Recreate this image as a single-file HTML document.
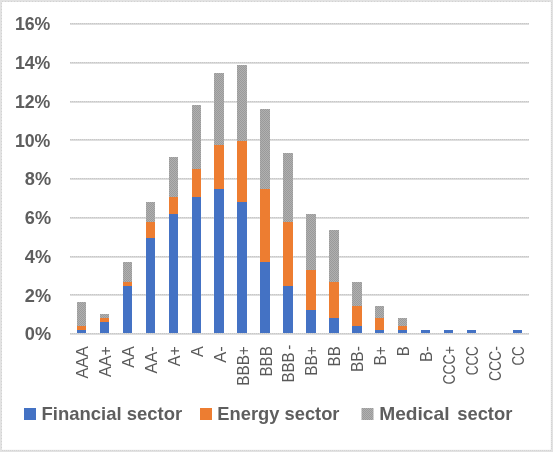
<!DOCTYPE html>
<html><head><meta charset="utf-8"><title>chart</title>
<style>
html,body{margin:0;padding:0;background:#fff;}
body{width:553px;height:452px;overflow:hidden;}
svg{display:block;}
text{font-family:"Liberation Sans",sans-serif;fill:#595959;}
.b{font-weight:bold;fill:#5e5e5e;}
</style></head><body>
<svg width="553" height="452" viewBox="0 0 553 452">
<defs>
<pattern id="pg" width="2" height="2" patternUnits="userSpaceOnUse"><rect width="2" height="2" fill="#b0b0b0"/><rect width="1" height="1" fill="#9a9a9a"/><rect x="1" y="1" width="1" height="1" fill="#9a9a9a"/></pattern>
<pattern id="pl" width="2" height="1" patternUnits="userSpaceOnUse"><rect width="2" height="1" fill="#d8d8d8"/><rect width="1" height="1" fill="#c8c8c8"/></pattern>
<pattern id="ph3" width="3" height="1" patternUnits="userSpaceOnUse"><rect width="3" height="1" fill="#e2e2e2"/><rect x="2" width="1" height="1" fill="#d2d2d2"/></pattern>
<pattern id="pv3" width="1" height="3" patternUnits="userSpaceOnUse"><rect width="1" height="3" fill="#e2e2e2"/><rect y="0" width="1" height="1" fill="#d2d2d2"/></pattern>
<pattern id="ph2" width="2" height="1" patternUnits="userSpaceOnUse"><rect width="2" height="1" fill="#e2e2e2"/><rect x="0" width="1" height="1" fill="#d4d4d4"/></pattern>
<pattern id="pv2" width="1" height="2" patternUnits="userSpaceOnUse"><rect width="1" height="2" fill="#e2e2e2"/><rect y="0" width="1" height="1" fill="#d4d4d4"/></pattern>
</defs>
<rect x="0" y="0" width="553" height="452" fill="#e2e2e2"/>
<rect x="2" y="1" width="549" height="1" fill="url(#ph3)"/>
<rect x="1" y="2" width="1" height="448" fill="url(#pv3)"/>
<rect x="2" y="450" width="549" height="1" fill="url(#ph2)"/>
<rect x="551" y="2" width="1" height="448" fill="url(#pv2)"/>
<rect x="2" y="2" width="548.8" height="447.8" fill="#ffffff"/>

<rect x="70" y="333" width="459" height="2" fill="#dedede"/><rect x="70" y="333" width="459" height="1" fill="url(#pl)"/>
<rect x="70" y="294" width="459" height="2" fill="#dedede"/><rect x="70" y="294" width="459" height="1" fill="url(#pl)"/>
<rect x="70" y="256" width="459" height="2" fill="#dedede"/><rect x="70" y="256" width="459" height="1" fill="url(#pl)"/>
<rect x="70" y="217" width="459" height="2" fill="#dedede"/><rect x="70" y="217" width="459" height="1" fill="url(#pl)"/>
<rect x="70" y="178" width="459" height="2" fill="#dedede"/><rect x="70" y="178" width="459" height="1" fill="url(#pl)"/>
<rect x="70" y="139" width="459" height="2" fill="#dedede"/><rect x="70" y="139" width="459" height="1" fill="url(#pl)"/>
<rect x="70" y="101" width="459" height="2" fill="#dedede"/><rect x="70" y="101" width="459" height="1" fill="url(#pl)"/>
<rect x="70" y="62" width="459" height="2" fill="#dedede"/><rect x="70" y="62" width="459" height="1" fill="url(#pl)"/>
<rect x="70" y="23" width="459" height="2" fill="#dedede"/><rect x="70" y="23" width="459" height="1" fill="url(#pl)"/>
<rect x="77" y="302" width="9" height="24" fill="url(#pg)"/>
<rect x="77" y="326" width="9" height="4" fill="#ed7d31"/>
<rect x="77" y="330" width="9" height="3" fill="#4472c4"/>
<rect x="100" y="314" width="9" height="4" fill="url(#pg)"/>
<rect x="100" y="318" width="9" height="4" fill="#ed7d31"/>
<rect x="100" y="322" width="9" height="11" fill="#4472c4"/>
<rect x="123" y="262" width="9" height="20" fill="url(#pg)"/>
<rect x="123" y="282" width="9" height="4" fill="#ed7d31"/>
<rect x="123" y="286" width="9" height="47" fill="#4472c4"/>
<rect x="146" y="202" width="9" height="20" fill="url(#pg)"/>
<rect x="146" y="222" width="9" height="16" fill="#ed7d31"/>
<rect x="146" y="238" width="9" height="95" fill="#4472c4"/>
<rect x="169" y="157" width="9" height="40" fill="url(#pg)"/>
<rect x="169" y="197" width="9" height="17" fill="#ed7d31"/>
<rect x="169" y="214" width="9" height="119" fill="#4472c4"/>
<rect x="192" y="105" width="9" height="64" fill="url(#pg)"/>
<rect x="192" y="169" width="9" height="28" fill="#ed7d31"/>
<rect x="192" y="197" width="9" height="136" fill="#4472c4"/>
<rect x="214" y="73" width="10" height="72" fill="url(#pg)"/>
<rect x="214" y="145" width="10" height="44" fill="#ed7d31"/>
<rect x="214" y="189" width="10" height="144" fill="#4472c4"/>
<rect x="237" y="65" width="10" height="76" fill="url(#pg)"/>
<rect x="237" y="141" width="10" height="61" fill="#ed7d31"/>
<rect x="237" y="202" width="10" height="131" fill="#4472c4"/>
<rect x="260" y="109" width="10" height="80" fill="url(#pg)"/>
<rect x="260" y="189" width="10" height="73" fill="#ed7d31"/>
<rect x="260" y="262" width="10" height="71" fill="#4472c4"/>
<rect x="283" y="153" width="10" height="69" fill="url(#pg)"/>
<rect x="283" y="222" width="10" height="64" fill="#ed7d31"/>
<rect x="283" y="286" width="10" height="47" fill="#4472c4"/>
<rect x="306" y="214" width="10" height="56" fill="url(#pg)"/>
<rect x="306" y="270" width="10" height="40" fill="#ed7d31"/>
<rect x="306" y="310" width="10" height="23" fill="#4472c4"/>
<rect x="329" y="230" width="10" height="52" fill="url(#pg)"/>
<rect x="329" y="282" width="10" height="36" fill="#ed7d31"/>
<rect x="329" y="318" width="10" height="15" fill="#4472c4"/>
<rect x="352" y="282" width="10" height="24" fill="url(#pg)"/>
<rect x="352" y="306" width="10" height="20" fill="#ed7d31"/>
<rect x="352" y="326" width="10" height="7" fill="#4472c4"/>
<rect x="375" y="306" width="9" height="12" fill="url(#pg)"/>
<rect x="375" y="318" width="9" height="12" fill="#ed7d31"/>
<rect x="375" y="330" width="9" height="3" fill="#4472c4"/>
<rect x="398" y="318" width="9" height="8" fill="url(#pg)"/>
<rect x="398" y="326" width="9" height="4" fill="#ed7d31"/>
<rect x="398" y="330" width="9" height="3" fill="#4472c4"/>
<rect x="421" y="330" width="9" height="3" fill="#4472c4"/>
<rect x="444" y="330" width="9" height="3" fill="#4472c4"/>
<rect x="467" y="330" width="9" height="3" fill="#4472c4"/>
<rect x="513" y="330" width="9" height="3" fill="#4472c4"/>
<text class="b" x="51.1" y="340.3" font-size="18.2" text-anchor="end">0%</text>
<text class="b" x="51.1" y="302.3" font-size="18.2" text-anchor="end">2%</text>
<text class="b" x="51.1" y="263.3" font-size="18.2" text-anchor="end">4%</text>
<text class="b" x="51.1" y="224.3" font-size="18.2" text-anchor="end">6%</text>
<text class="b" x="51.1" y="185.3" font-size="18.2" text-anchor="end">8%</text>
<text class="b" x="50.4" y="147.3" font-size="18.2" text-anchor="end" textLength="35.5" lengthAdjust="spacingAndGlyphs">10%</text>
<text class="b" x="50.4" y="108.3" font-size="18.2" text-anchor="end" textLength="35.5" lengthAdjust="spacingAndGlyphs">12%</text>
<text class="b" x="50.4" y="69.3" font-size="18.2" text-anchor="end" textLength="35.5" lengthAdjust="spacingAndGlyphs">14%</text>
<text class="b" x="50.4" y="30.3" font-size="18.2" text-anchor="end" textLength="35.5" lengthAdjust="spacingAndGlyphs">16%</text>
<text transform="translate(87.9,346.2) rotate(-90)" font-size="15.6" text-anchor="end" textLength="32.3" lengthAdjust="spacingAndGlyphs">AAA</text>
<text transform="translate(110.8,346.2) rotate(-90)" font-size="15.6" text-anchor="end" textLength="30.8" lengthAdjust="spacingAndGlyphs">AA+</text>
<text transform="translate(133.8,346.2) rotate(-90)" font-size="15.6" text-anchor="end" textLength="21.5" lengthAdjust="spacingAndGlyphs">AA</text>
<text transform="translate(156.7,346.2) rotate(-90)" font-size="15.6" text-anchor="end" textLength="27.2" lengthAdjust="spacingAndGlyphs">AA-</text>
<text transform="translate(179.7,346.2) rotate(-90)" font-size="15.6" text-anchor="end" textLength="20.0" lengthAdjust="spacingAndGlyphs">A+</text>
<text transform="translate(202.6,346.2) rotate(-90)" font-size="15.6" text-anchor="end" textLength="10.8" lengthAdjust="spacingAndGlyphs">A</text>
<text transform="translate(225.6,346.2) rotate(-90)" font-size="15.6" text-anchor="end" textLength="16.5" lengthAdjust="spacingAndGlyphs">A-</text>
<text transform="translate(248.5,346.2) rotate(-90)" font-size="15.6" text-anchor="end" textLength="39.6" lengthAdjust="spacingAndGlyphs">BBB+</text>
<text transform="translate(271.5,346.2) rotate(-90)" font-size="15.6" text-anchor="end" textLength="30.4" lengthAdjust="spacingAndGlyphs">BBB</text>
<text transform="translate(294.4,344.6) rotate(-90)" font-size="15.6" text-anchor="end" textLength="38.0" lengthAdjust="spacingAndGlyphs">BBB<tspan dx="2.8">-</tspan></text>
<text transform="translate(317.4,346.2) rotate(-90)" font-size="15.6" text-anchor="end" textLength="29.5" lengthAdjust="spacingAndGlyphs">BB+</text>
<text transform="translate(340.3,346.2) rotate(-90)" font-size="15.6" text-anchor="end" textLength="20.2" lengthAdjust="spacingAndGlyphs">BB</text>
<text transform="translate(363.3,346.2) rotate(-90)" font-size="15.6" text-anchor="end" textLength="25.9" lengthAdjust="spacingAndGlyphs">BB-</text>
<text transform="translate(386.2,346.2) rotate(-90)" font-size="15.6" text-anchor="end" textLength="19.4" lengthAdjust="spacingAndGlyphs">B+</text>
<text transform="translate(409.2,346.2) rotate(-90)" font-size="15.6" text-anchor="end" textLength="10.1" lengthAdjust="spacingAndGlyphs">B</text>
<text transform="translate(432.1,346.2) rotate(-90)" font-size="15.6" text-anchor="end" textLength="15.8" lengthAdjust="spacingAndGlyphs">B-</text>
<text transform="translate(455.1,346.2) rotate(-90)" font-size="15.6" text-anchor="end" textLength="38.4" lengthAdjust="spacingAndGlyphs">CCC+</text>
<text transform="translate(478.0,346.2) rotate(-90)" font-size="15.6" text-anchor="end" textLength="29.1" lengthAdjust="spacingAndGlyphs">CCC</text>
<text transform="translate(501.0,346.2) rotate(-90)" font-size="15.6" text-anchor="end" textLength="34.8" lengthAdjust="spacingAndGlyphs">CCC-</text>
<text transform="translate(523.9,346.2) rotate(-90)" font-size="15.6" text-anchor="end" textLength="19.4" lengthAdjust="spacingAndGlyphs">CC</text>
<rect x="24" y="408" width="12" height="12" fill="#4472c4"/>
<rect x="200" y="408" width="12" height="12" fill="#ed7d31"/>
<rect x="361.5" y="408" width="12" height="12" fill="url(#pg)"/>
<text class="b" x="41.5" y="419.8" font-size="18.6" textLength="140.6" lengthAdjust="spacingAndGlyphs">Financial sector</text>
<text class="b" x="217.3" y="419.8" font-size="18.6" textLength="122.2" lengthAdjust="spacingAndGlyphs">Energy sector</text>
<text class="b" y="419.8" font-size="18.6"><tspan x="379.2" textLength="70.3" lengthAdjust="spacingAndGlyphs">Medical</tspan> <tspan x="457.2" textLength="55.2" lengthAdjust="spacingAndGlyphs">sector</tspan></text>
</svg></body></html>
